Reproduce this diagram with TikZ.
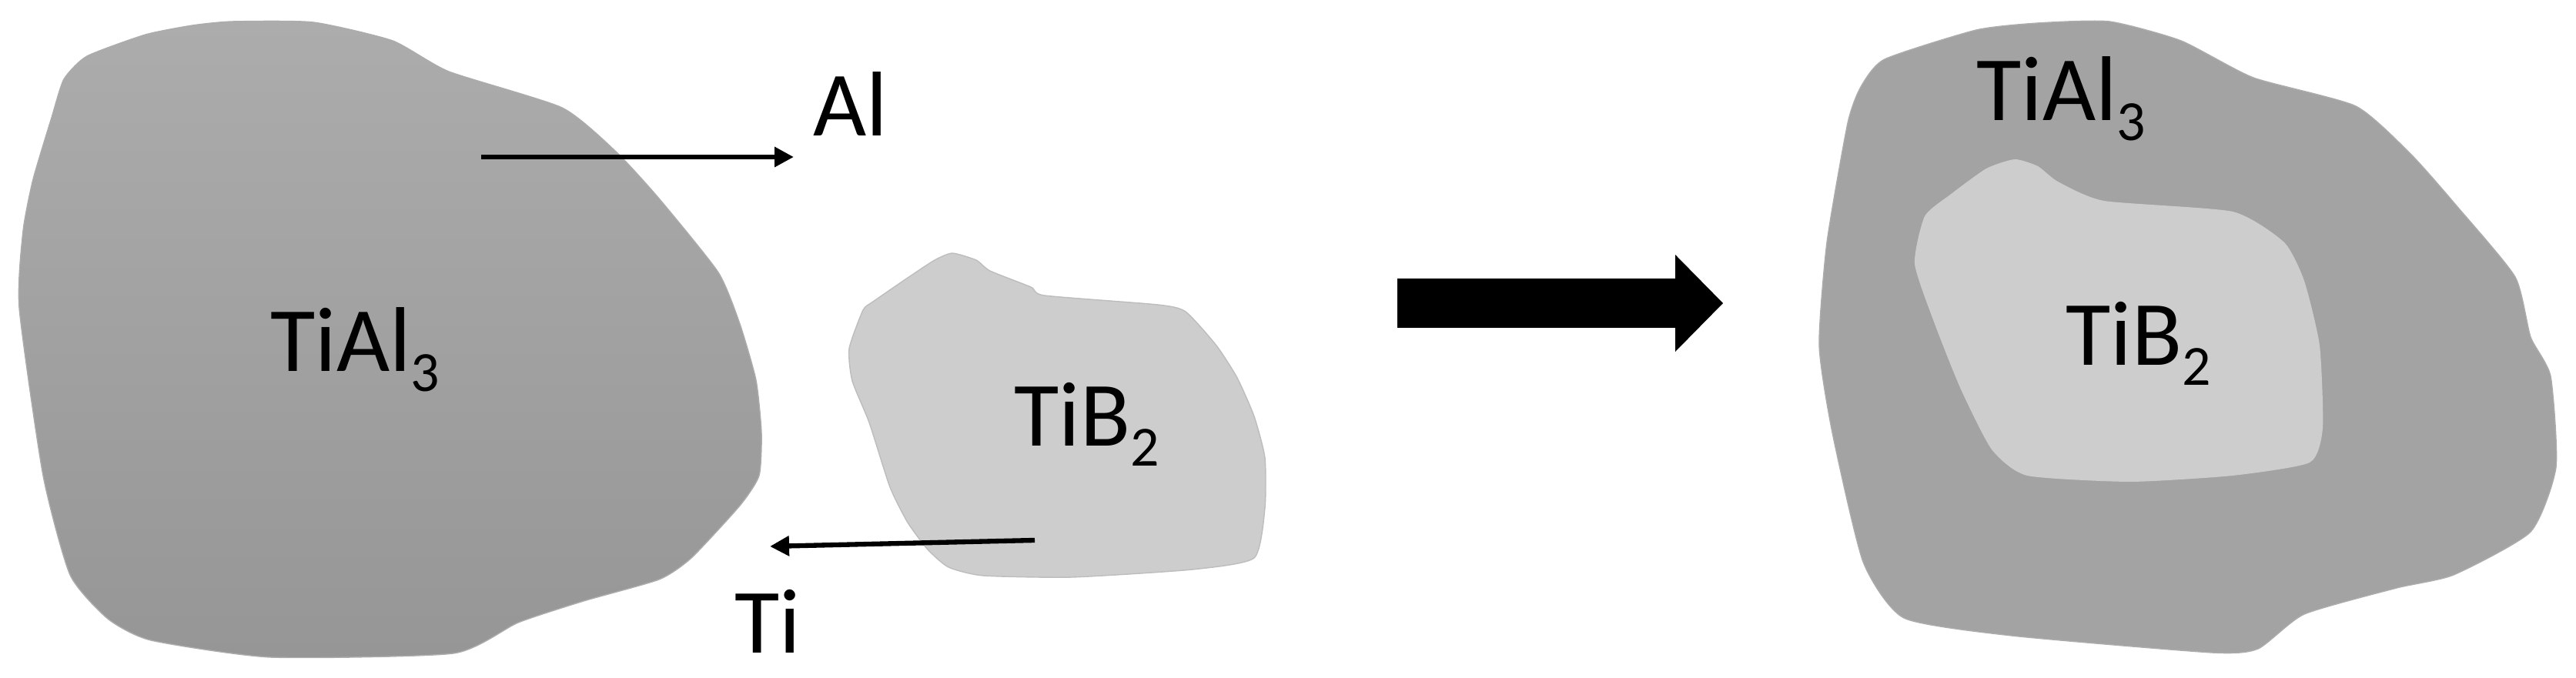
\documentclass[tikz,border=0pt]{standalone}
\usepackage{xcolor}
\usepackage{fontspec}
\setmainfont{Carlito}
\usepackage{tikz}
\usetikzlibrary{arrows.meta,positioning}
\definecolor{tialTop}{RGB}{172, 172, 172}
\definecolor{tialBottom}{RGB}{150, 150, 150}
\definecolor{tialColor}{RGB}{163, 163, 163}
\definecolor{tibColor}{RGB}{205, 205, 205}
\newcommand{\chemsub}[1]{\raisebox{-0.26cm}{\fontsize{21}{24}\selectfont #1}}
\tikzset{
  phase label/.style={anchor=base west, inner sep=0pt, font=\fontsize{34}{40}\selectfont},
  flux/.style={line width=1.8pt, -{Triangle[length=0.25cm,width=0.25cm]}}
}

\begin{document}
\begin{tikzpicture}
            \useasboundingbox (0,0) rectangle (33.46,8.81);

            % Separate particles
            \shade[top color=tialTop, bottom color=tialBottom, draw=tialColor!90!white, line width=0.4pt]
                plot[smooth cycle, tension=0.35] coordinates {
                (3.02,8.53) (4.07,8.52) (5.10,8.28) (5.83,7.88) (7.30,7.41) (8.00,6.84)
                (8.56,6.23) (9.33,5.27) (9.61,4.60) (9.82,3.87) (9.89,3.19) (9.86,2.63)
                (9.61,2.24) (8.98,1.56) (8.56,1.28) (7.58,1.00) (6.73,0.72) (5.89,0.32)
                (3.51,0.27) (1.96,0.49) (1.40,0.77) (0.91,1.34) (0.56,2.63) (0.25,4.81)
                (0.30,5.81) (0.43,6.48) (0.67,7.28) (0.83,7.78) (1.13,8.08) (1.89,8.36) (2.50,8.48)};
            \filldraw[fill=tibColor, draw=tibColor!92!black, line width=0.4pt]
                plot[smooth cycle, tension=0.35] coordinates {
                (12.37,5.52) (12.68,5.43) (12.86,5.29) (13.39,5.08) (13.57,4.97) (15.04,4.85)
                (15.40,4.76) (15.80,4.32) (16.07,3.90) (16.29,3.40) (16.43,2.86) (16.43,2.21)
                (16.29,1.56) (15.49,1.41) (13.93,1.31) (12.77,1.33) (12.32,1.44) (12.05,1.67)
                (11.79,2.02) (11.56,2.48) (11.29,3.32) (11.07,3.86) (11.03,4.28) (11.21,4.78)
                (11.34,4.89) (11.79,5.20) (12.14,5.43)};

            \node[phase label] (tial) at (3.51,3.98) {TiAl\chemsub{3}};
            \node[phase label] (tib) at (13.17,3.01) {TiB\chemsub{2}};
            \node[phase label] (al) at (10.56,7.04) {Al};
            \node[phase label] (ti) at (9.54,0.32) {Ti};

            % Diffusion arrows
            \coordinate (alstart) at (6.25,6.77);
            \coordinate (alend) at (10.31,6.77);
            \coordinate (tistart) at (13.44,1.79);
            \coordinate (tiend) at (10.00,1.71);
            \draw[flux] (alstart) -- (alend);
            \draw[flux] (tistart) -- (tiend);

            % Reaction arrow
            \fill[black] (18.15,5.19) -- (21.76,5.19) -- (21.76,5.50) -- (22.38,4.87)
                -- (21.76,4.24) -- (21.76,4.55) -- (18.15,4.55) -- cycle;

            % Core-shell particle
            \filldraw[fill=tialColor, draw=tialColor!90!white, line width=0.4pt]
                plot[smooth cycle, tension=0.35] coordinates {
                (24.48,8.04) (25.67,8.42) (26.47,8.51) (27.40,8.53) (28.33,8.28) (29.27,7.80)
                (30.60,7.43) (31.33,6.79) (31.93,6.11) (32.67,5.21) (32.87,4.43) (33.13,3.92)
                (33.20,2.74) (32.87,1.90) (31.87,1.34) (31.13,1.17) (29.93,0.83) (29.33,0.38)
                (28.73,0.33) (26.13,0.55) (24.73,0.78) (24.20,1.51) (23.80,3.19) (23.63,4.32)
                (23.73,5.66) (24.00,7.21) (24.17,7.68)};
            \fill[tibColor]
                plot[smooth cycle, tension=0.35] coordinates {
                (26.17,6.74) (26.47,6.65) (26.73,6.45) (27.33,6.20) (29.00,6.06) (29.67,5.66)
                (29.93,5.16) (30.13,4.32) (30.17,3.25) (30.00,2.80) (29.00,2.63) (27.67,2.55)
                (26.33,2.63) (25.87,2.97) (25.47,3.75) (25.13,4.60) (24.87,5.38) (25.00,6.00)
                (25.33,6.28) (25.80,6.62)};

            \node[phase label] (shell) at (25.67,7.24) {TiAl\chemsub{3}};
            \node[phase label] (core) at (26.83,4.06) {TiB\chemsub{2}};
        \end{tikzpicture}
\end{document}
